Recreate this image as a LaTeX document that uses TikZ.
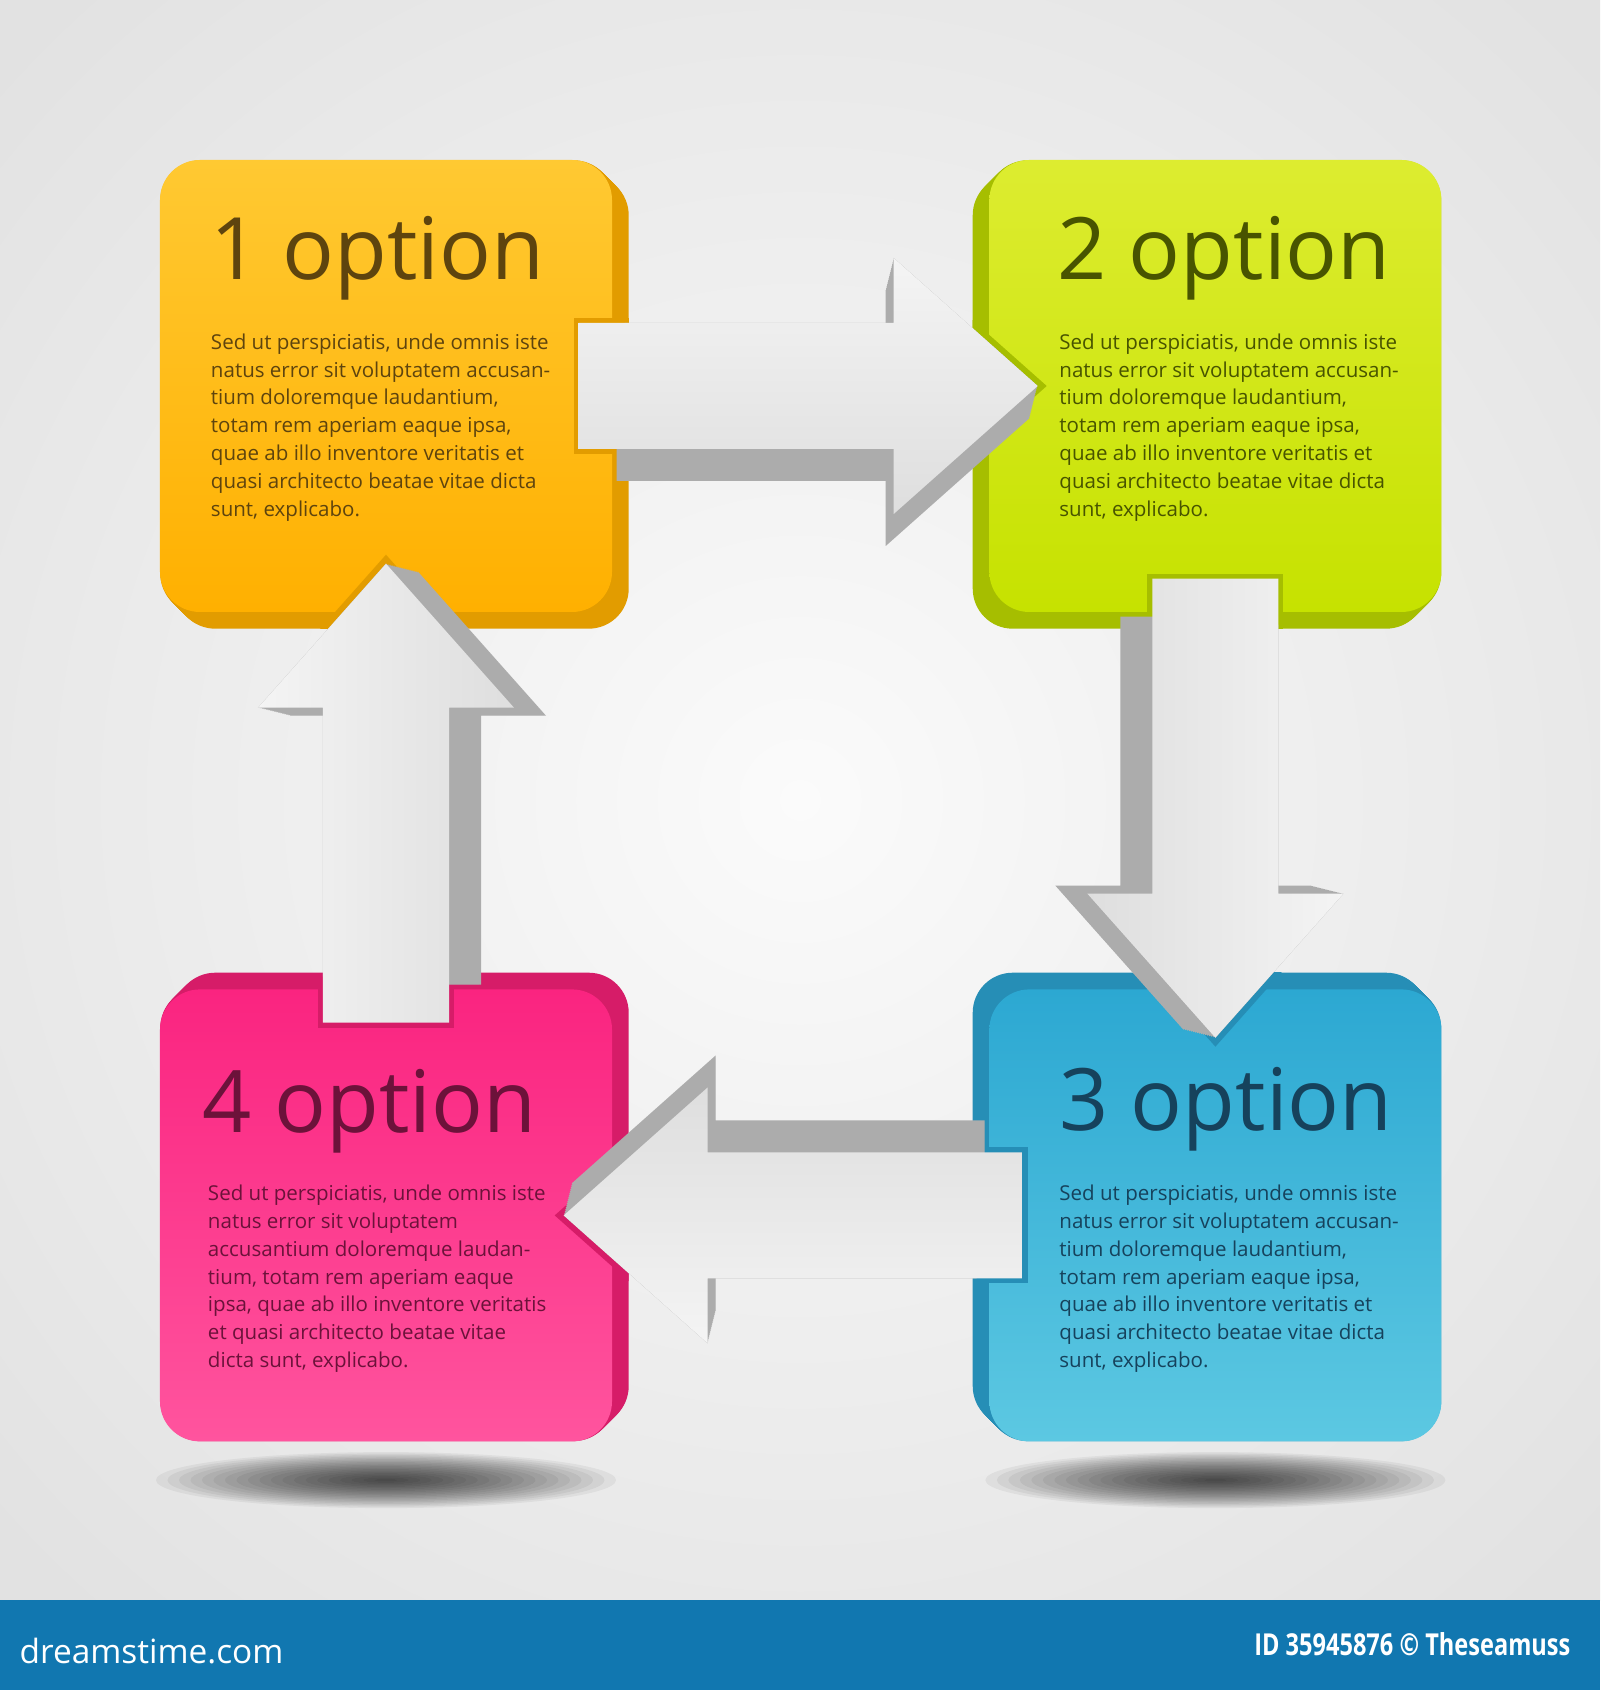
\documentclass[tikz,border=0pt]{standalone}
\usepackage{fontspec}
\setmainfont{Open Sans}
\usepackage{graphicx}
\usetikzlibrary{calc,positioning}

\definecolor{bgA}{RGB}{251,251,251}
\definecolor{bgB}{RGB}{240,240,240}
\definecolor{bgC}{RGB}{226,226,226}
\definecolor{barblue}{RGB}{17,119,176}
\definecolor{orangeA}{RGB}{255,201,50}
\definecolor{orangeB}{RGB}{255,176,0}
\definecolor{orangeD}{RGB}{226,156,0}
\definecolor{orangeT}{RGB}{94,68,14}
\definecolor{greenA}{RGB}{221,236,48}
\definecolor{greenB}{RGB}{198,226,0}
\definecolor{greenD}{RGB}{166,190,0}
\definecolor{greenT}{RGB}{72,84,0}
\definecolor{blueA}{RGB}{44,168,210}
\definecolor{blueB}{RGB}{92,200,226}
\definecolor{blueD}{RGB}{38,142,182}
\definecolor{blueT}{RGB}{22,66,92}
\definecolor{pinkA}{RGB}{250,36,128}
\definecolor{pinkB}{RGB}{255,84,158}
\definecolor{pinkD}{RGB}{214,28,104}
\definecolor{pinkT}{RGB}{108,18,58}
\definecolor{arrowA}{RGB}{244,244,244}
\definecolor{arrowB}{RGB}{222,222,222}
\definecolor{arrowD}{RGB}{172,172,172}

\pgfdeclareradialshading{glow}{\pgfpoint{0bp}{0bp}}{color(0bp)=(bgA); color(14bp)=(bgB); color(34bp)=(bgC); color(50bp)=(bgC)}

\pgfdeclarelayer{bg}
\pgfdeclarelayer{back}
\pgfsetlayers{bg,back,main}

\tikzset{
    optbox/.style={rectangle, rounded corners=0.4cm, minimum size=4.52cm, inner sep=0},
    opttitle/.style={anchor=base west, inner sep=0, font=\fontsize{24.5}{28}\selectfont},
    opttext/.style={anchor=base west, inner sep=0, font=\fontsize{5.84}{7.91}\selectfont},
    arrowface/.style={top color=arrowA, bottom color=arrowB, shading angle=#1},
    arrowside/.style={fill=arrowD},
    softshadow/.style={fill=black, opacity=0.05}
}

% one big paper arrow: start anchor, direction, notch colour, cut colour
\newcommand{\flowarrow}[4]{%
    \begin{scope}[shift={(#1)}, rotate=#2]
        \fill[#3] (-0.39,-0.68) rectangle (0.16,0.68);
        \begin{scope}
            \clip (3.60,-3) rectangle (9,3);
            \fill[#4] (2.81,1.36) -- (4.34,0) -- (2.81,-1.36) -- cycle;
        \end{scope}
        \foreach \i in {0,...,16}
            \fill[arrowside, shift={(-0.005*\i,-0.02*\i)}] (0.12,0.63) -- (2.81,0.63) -- (2.81,1.28) -- (4.25,0) -- (2.81,-1.28) -- (2.81,-0.63) -- (0.12,-0.63) -- cycle;
        \shade[arrowface=#2] (-0.34,0.63) -- (2.81,0.63) -- (2.81,1.28) -- (4.25,0) -- (2.81,-1.28) -- (2.81,-0.63) -- (-0.34,-0.63) -- cycle;
    \end{scope}}

\newcommand{\loremtext}{Sed ut perspiciatis, unde omnis iste\\natus error sit voluptatem accusan-\\tium doloremque laudantium,\\totam rem aperiam eaque ipsa,\\quae ab illo inventore veritatis et\\quasi architecto beatae vitae dicta\\sunt, explicabo.}
\newcommand{\loremnarrow}{Sed ut perspiciatis, unde omnis iste\\natus error sit voluptatem\\accusantium doloremque laudan-\\tium, totam rem aperiam eaque\\ipsa, quae ab illo inventore veritatis\\et quasi architecto beatae vitae\\dicta sunt, explicabo.}

\begin{document}
\begin{tikzpicture}
    \useasboundingbox (-8,-8.9) rectangle (8,8);
    \begin{pgfonlayer}{bg}
        \shade[shading=glow] (-8,-8) rectangle (8,8);
    \end{pgfonlayer}

    % the four option boxes
    \node[optbox, top color=orangeA, bottom color=orangeB] (opt1) at (-4.14,4.14) {};
    \node[optbox, top color=greenA, bottom color=greenB, right=3.76cm of opt1] (opt2) {};
    \node[optbox, top color=blueA, bottom color=blueB, below=3.76cm of opt2] (opt3) {};
    \node[optbox, top color=pinkA, bottom color=pinkB, left=3.76cm of opt3] (opt4) {};

    \begin{pgfonlayer}{back}
        \foreach \n/\sx/\sy/\c in {1/1/-1/orangeD, 2/-1/-1/greenD, 3/-1/1/blueD, 4/1/1/pinkD}
            \foreach \i in {1,...,16}
                \fill[\c, rounded corners=0.4cm] ($(opt\n.south west)+(0.01*\i*\sx,0.01*\i*\sy)$) rectangle ($(opt\n.north east)+(0.01*\i*\sx,0.01*\i*\sy)$);
    \end{pgfonlayer}

    % shadows under the lower boxes
    \begin{pgfonlayer}{bg}
        \foreach \n in {3,4}
            \foreach \k in {1,...,20}
                \fill[softshadow] ($(opt\n.south)+(0,-0.38)$) ellipse ({2.3*\k/20} and {0.28*\k/20});
    \end{pgfonlayer}

    % arrows
    \flowarrow{opt1.east}{0}{orangeD}{greenD}
    \flowarrow{opt2.south}{-90}{greenD}{blueD}
    \flowarrow{opt3.west}{180}{blueD}{pinkD}
    \flowarrow{opt4.north}{90}{pinkD}{orangeD}

    % texts
    \node[opttitle, text=orangeT] (title1) at ($(opt1.north west)+(0.51,-1.20)$) {1 option};
    \node[opttext, text=orangeT] (text1) at ($(opt1.north west)+(0.51,-1.90)$) {\parbox[t]{4cm}{\loremtext}};
    \node[opttitle, text=greenT] (title2) at ($(opt2.north west)+(0.68,-1.20)$) {2 option};
    \node[opttext, text=greenT] (text2) at ($(opt2.north west)+(0.70,-1.90)$) {\parbox[t]{4cm}{\loremtext}};
    \node[opttitle, text=blueT] (title3) at ($(opt3.north west)+(0.70,-1.42)$) {3 option};
    \node[opttext, text=blueT] (text3) at ($(opt3.north west)+(0.70,-2.12)$) {\parbox[t]{4cm}{\loremtext}};
    \node[opttitle, text=pinkT] (title4) at ($(opt4.north west)+(0.43,-1.44)$) {4 option};
    \node[opttext, text=pinkT] (text4) at ($(opt4.north west)+(0.48,-2.12)$) {\parbox[t]{4cm}{\loremnarrow}};

    % footer bar
    \fill[barblue] (-8,-8) rectangle (8,-8.9);
    \node[anchor=base west, inner sep=0, text=white, font=\fontsize{9.5}{10}\selectfont] (site) at (-7.81,-8.63) {dreamstime.com};
    \node[anchor=base east, inner sep=0, text=white, font=\bfseries\fontsize{8.6}{10}\selectfont] (credit) at (7.71,-8.55) {\scalebox{0.78}[1]{ID 35945876 © Theseamuss}};
\end{tikzpicture}
\end{document}
